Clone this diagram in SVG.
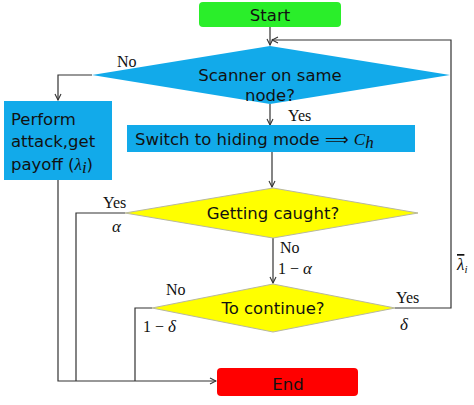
<svg xmlns="http://www.w3.org/2000/svg" width="474" height="405" viewBox="0 0 474 405">
<defs>
<style>
.blue{fill:#12aaea;}
.yel{fill:#ffff00;stroke:#b8b8a0;stroke-width:1;}
.t{font-family:"DejaVu Sans","Noto Sans",sans-serif;font-size:16.5px;fill:#111;}
.s{font-family:"Liberation Serif","DejaVu Serif",serif;font-size:16px;fill:#111;}
.m{font-family:"Liberation Serif","DejaVu Serif",serif;font-size:17px;font-style:italic;fill:#111;}
.c{fill:none;stroke:#333;stroke-width:1.2;}
</style>
<marker id="ar" viewBox="0 0 8 8" refX="7" refY="4" markerWidth="8" markerHeight="8" markerUnits="userSpaceOnUse" orient="auto">
<path d="M1,1 L7,4 L1,7" fill="none" stroke="#333" stroke-width="1.1"/>
</marker>
</defs>
<rect width="474" height="405" fill="#fff"/>
<g id="connectors">
<path class="c" d="M270,27 V45" marker-end="url(#ar)"/>
<path class="c" d="M395,308 H451 V40 H272" marker-end="url(#ar)"/>
<path class="c" d="M92,75 H58 V100" marker-end="url(#ar)"/>
<path class="c" d="M270,104 V125" marker-end="url(#ar)"/>
<path class="c" d="M272,152 V187" marker-end="url(#ar)"/>
<path class="c" d="M125,213 H76 V381"/>
<path class="c" d="M58,180 V381 H216" marker-end="url(#ar)"/>
<path class="c" d="M273,238 V283" marker-end="url(#ar)"/>
<path class="c" d="M152,308 H135 V381"/>
</g>
<g id="start">
<rect x="199" y="2" width="142" height="25" rx="4" fill="#2aee2a"/>
<text class="t" x="270" y="21" text-anchor="middle" font-size="18">Start</text>
</g>
<g id="scanner">
<polygon class="blue" points="270,46 450,75 270,104 92,75"/>
<text class="t" x="270" y="81" text-anchor="middle">Scanner on same</text>
<text class="t" x="270" y="101" text-anchor="middle">node?</text>
</g>
<g id="perform">
<rect class="blue" x="4" y="101" width="108" height="79"/>
<text class="t" x="11" y="125" font-size="17.5">Perform</text>
<text class="t" x="11" y="147" font-size="17.5">attack,get</text>
<text class="t" x="11" y="170" font-size="17.5">payoff (<tspan class="m">λ</tspan><tspan class="m" font-size="12" dy="3">i</tspan><tspan dy="-3">)</tspan></text>
</g>
<g id="switch">
<rect class="blue" x="127" y="125" width="288" height="27"/>
<text class="t" x="135" y="145">Switch to hiding mode ⟹ <tspan class="m">C</tspan><tspan class="m" font-size="12" dy="3">h</tspan></text>
</g>
<g id="caught">
<polygon class="yel" points="273,188 418,213 273,238 125,213"/>
<text class="t" x="273" y="219" text-anchor="middle" font-size="17">Getting caught?</text>
</g>
<g id="continue">
<polygon class="yel" points="273,284 395,308 273,332 152,308"/>
<text class="t" x="273" y="314" text-anchor="middle">To continue?</text>
</g>
<g id="end">
<rect x="217" y="368" width="141" height="28" rx="4" fill="#ff0000"/>
<text class="t" x="288" y="390" text-anchor="middle" font-size="17">End</text>
</g>
<g id="labels">
<text class="s" x="117" y="67" font-size="17">No</text>
<text class="s" x="288" y="121">Yes</text>
<text class="s" x="103" y="208">Yes</text>
<text class="m" x="112" y="232">α</text>
<text class="s" x="280" y="253">No</text>
<text class="s" x="278" y="274">1 − <tspan class="m">α</tspan></text>
<text class="s" x="166" y="295">No</text>
<text class="s" x="143" y="332">1 − <tspan class="m">δ</tspan></text>
<text class="s" x="396" y="303">Yes</text>
<text class="m" x="400" y="330">δ</text>
<text class="m" x="457" y="270"><tspan text-decoration="overline">λ</tspan><tspan font-size="11" dy="3">i</tspan></text>
</g>
</svg>
